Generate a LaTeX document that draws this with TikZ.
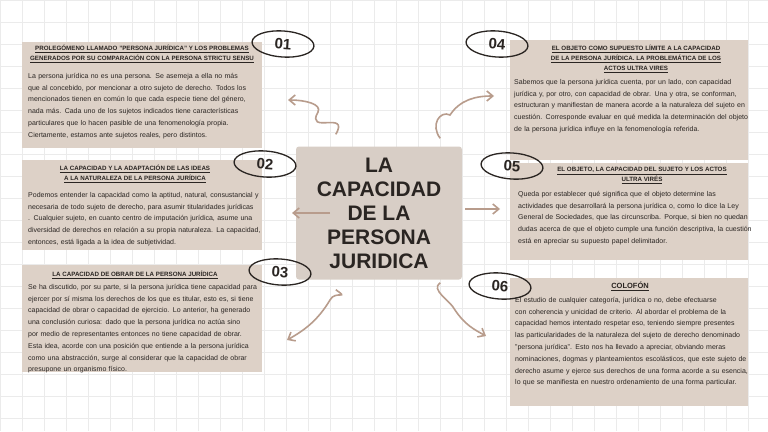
\documentclass[tikz,border=0pt]{standalone}
\usepackage{fontspec}
\setmainfont{Liberation Sans}
\usetikzlibrary{arrows.meta,shapes.geometric}
\definecolor{card}{HTML}{DDD1C7}
\definecolor{cent}{HTML}{D8CEC6}
\definecolor{tan}{HTML}{B89C8C}
\definecolor{ink}{HTML}{2A2522}
\tikzset{
 card/.style={fill=card, draw=none},
 body/.style={anchor=north west, text width=234pt, align=left, font=\fontsize{7}{11.8}\selectfont, execute at begin node={\hyphenpenalty=10000\relax}, text=ink, inner sep=0pt},
 ttl/.style={anchor=north, align=center, font=\bfseries\fontsize{6.2}{10}\selectfont, text=ink, inner sep=0pt},
 num/.style={draw=ink, line width=1.3pt, ellipse, minimum width=62pt, minimum height=26pt, font=\bfseries\fontsize{15}{15}\selectfont, text=ink, inner sep=0pt},
 conn/.style={draw=tan, line width=1.6pt, -{Straight Barb[length=6pt,width=10pt]}},
}
\newcommand{\ul}[1]{\underline{#1}}
\begin{document}
\begin{tikzpicture}[x=1pt,y=-1pt]
\useasboundingbox (0,0) rectangle (768,431);
\fill[white] (0,0) rectangle (768,431);
\foreach \i in {0,22,...,768} \draw[black!8,line width=0.5pt] (\i,0) -- (\i,431);
\foreach \j in {0,22,...,431} \draw[black!8,line width=0.5pt] (0,\j) -- (768,\j);
% cards
\fill[card] (22,42) rectangle (262,148);
\fill[card] (22,160) rectangle (262,250);
\fill[card] (22,265) rectangle (262,372);
\fill[card] (510,40) rectangle (748,160);
\fill[card] (510,163) rectangle (748,260);
\fill[card] (510,278) rectangle (748,406);
% center
\node[fill=cent, minimum width=166pt, minimum height=133pt, rounded corners=3pt, align=center, font=\bfseries\fontsize{21}{24}\selectfont, text=ink] (c) at (379,213) {LA\\CAPACIDAD\\DE LA\\PERSONA\\JURIDICA};
% titles
\node[ttl] (t1) at (142,45) {\ul{PROLEGÓMENO LLAMADO "PERSONA JURÍDICA" Y LOS PROBLEMAS}\\\ul{GENERADOS POR SU COMPARACIÓN CON LA PERSONA STRICTU SENSU}};
\node[body] (b1) at (28,73) {La persona jurídica no es una persona. Se asemeja a ella no más que al concebido, por mencionar a otro sujeto de derecho. Todos los mencionados tienen en común lo que cada especie tiene del género, nada más. Cada uno de los sujetos indicados tiene características particulares que lo hacen pasible de una fenomenología propia. Ciertamente, estamos ante sujetos reales, pero distintos.};
\node[ttl] (t2) at (135,165) {\ul{LA CAPACIDAD Y LA ADAPTACIÓN DE LAS IDEAS}\\\ul{A LA NATURALEZA DE LA PERSONA JURÍDICA}};
\node[body] (b2) at (28,192) {Podemos entender la capacidad como la aptitud, natural, consustancial y necesaria de todo sujeto de derecho, para asumir titularidades jurídicas . Cualquier sujeto, en cuanto centro de imputación jurídica, asume una diversidad de derechos en relación a su propia naturaleza. La capacidad, entonces, está ligada a la idea de subjetividad.};
\node[ttl] (t3) at (135,271) {\ul{LA CAPACIDAD DE OBRAR DE LA PERSONA JURÍDICA}};
\node[body] (b3) at (28,284) {Se ha discutido, por su parte, si la persona jurídica tiene capacidad para ejercer por sí misma los derechos de los que es titular, esto es, si tiene capacidad de obrar o capacidad de ejercicio. Lo anterior, ha generado una conclusión curiosa: dado que la persona jurídica no actúa sino por medio de representantes entonces no tiene capacidad de obrar. Esta idea, acorde con una posición que entiende a la persona jurídica como una abstracción, surge al considerar que la capacidad de obrar presupone un organismo físico.};
\node[ttl] (t4) at (636,45) {\ul{EL OBJETO COMO SUPUESTO LÍMITE A LA CAPACIDAD}\\\ul{DE LA PERSONA JURÍDICA. LA PROBLEMÁTICA DE LOS}\\\ul{ACTOS ULTRA VIRES}};
\node[body] (b4) at (514,79) {Sabemos que la persona jurídica cuenta, por un lado, con capacidad jurídica y, por otro, con capacidad de obrar. Una y otra, se conforman, estructuran y manifiestan de manera acorde a la naturaleza del sujeto en cuestión. Corresponde evaluar en qué medida la determinación del objeto de la persona jurídica influye en la fenomenología referida.};
\node[ttl] (t5) at (642,167) {\ul{EL OBJETO, LA CAPACIDAD DEL SUJETO Y LOS ACTOS}\\\ul{ULTRA VIRÉS}};
\node[body] (b5) at (518,191) {Queda por establecer qué significa que el objeto determine las actividades que desarrollará la persona jurídica o, como lo dice la Ley General de Sociedades, que las circunscriba. Porque, si bien no quedan dudas acerca de que el objeto cumple una función descriptiva, la cuestión está en apreciar su supuesto papel delimitador.};
\node[ttl, font=\bfseries\fontsize{7.5}{10}\selectfont] (t6) at (630,282) {\ul{COLOFÓN}};
\node[body] (b6) at (515,297) {El estudio de cualquier categoría, jurídica o no, debe efectuarse con coherencia y unicidad de criterio. Al abordar el problema de la capacidad hemos intentado respetar eso, teniendo siempre presentes las particularidades de la naturaleza del sujeto de derecho denominado "persona jurídica". Esto nos ha llevado a apreciar, obviando meras nominaciones, dogmas y planteamientos escolásticos, que este sujeto de derecho asume y ejerce sus derechos de una forma acorde a su esencia, lo que se manifiesta en nuestro ordenamiento de una forma particular.};
% number ovals
\node[num,rotate=-4] (n1) at (283,44) {01};
\node[num,rotate=-4] (n2) at (265,164) {02};
\node[num,rotate=-4] (n3) at (280,272) {03};
\node[num,rotate=-4] (n4) at (497,44) {04};
\node[num,rotate=-4] (n5) at (512,166) {05};
\node[num,rotate=-4] (n6) at (500,286) {06};
% connectors
\coordinate (a1) at (288,100);
\coordinate (a2) at (292,213);
\coordinate (a3) at (287,340);
\coordinate (a4) at (494,96);
\coordinate (a5) at (500,209);
\coordinate (a6) at (486,336);
\coordinate (s2) at (330,213);
\draw[conn] (c.north west) ++(40,-12) .. controls (350,110) and (305,135) .. (318,112) .. controls (322,104) and (305,100) .. (a1);
\draw[conn] (s2) -- (a2);
\draw[conn] (c.south west) ++(40,10) .. controls (350,300) and (335,290) .. (330,300) .. controls (318,320) and (305,330) .. (a3);
\draw[conn] (c.north east) ++(-22,-8) .. controls (430,125) and (440,110) .. (450,115) .. controls (460,100) and (475,96) .. (a4);
\draw[conn] (c.east) ++(3,-4) -- (a5);
\draw[conn] (c.south east) ++(-22,3) .. controls (430,290) and (450,300) .. (455,310) .. controls (465,325) and (475,330) .. (a6);
\end{tikzpicture}
\end{document}
